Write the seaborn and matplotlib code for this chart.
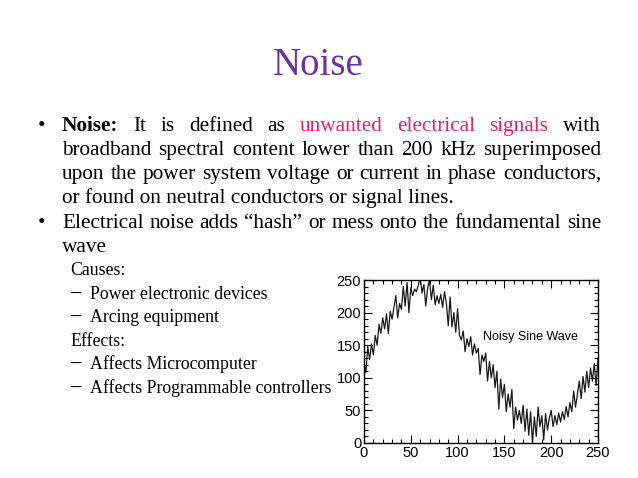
"""
Slide "Noise" with a noisy sine wave plot in the lower right.
"""

import matplotlib
matplotlib.use('Agg')
import pandas as pd
import matplotlib.pyplot as plt
import seaborn as sns
from matplotlib.ticker import MultipleLocator

# Noisy sine wave (one sample every 2 units)
sample_x = list(range(0, 256, 2))
noisy_signal = [
    125, 108, 148, 128, 152, 135, 165, 150, 182, 168,
    192, 175, 198, 168, 202, 190, 208, 226, 192, 214,
    205, 240, 210, 246, 200, 238, 226, 236, 232, 242,
    255, 230, 243, 210, 238, 250, 220, 242, 212, 226,
    214, 228, 208, 232, 215, 180, 224, 178, 200, 170,
    206, 165, 158, 172, 140, 160, 148, 163, 135, 152,
    138, 145, 105, 135, 125, 138, 95, 125, 100, 120,
    85, 110, 52, 98, 70, 90, 48, 75, 55, 82,
    22, 55, 35, 50, 30, 58, 18, 52, 12, 48,
    0, 40, 10, 55, 25, 42, 5, 45, 20, 38,
    50, 25, 42, 28, 46, 32, 48, 36, 56, 40,
    62, 48, 80, 55, 75, 95, 68, 102, 78, 110,
    85, 115, 95, 122, 88, 130, 110, 130,
]
x_ticks = [0, 50, 100, 150, 200, 250]
y_ticks = [0, 50, 100, 150, 200, 250]

title = 'Noise'
bullet1 = [
    [('Noise:', 'bold', 'black'), ('It', 'normal', 'black'), ('is', 'normal', 'black'),
     ('defined', 'normal', 'black'), ('as', 'normal', 'black'),
     ('unwanted', 'normal', '#E0207A'), ('electrical', 'normal', '#E0207A'),
     ('signals', 'normal', '#E0207A'), ('with', 'normal', 'black')],
    'broadband spectral content lower than 200 kHz superimposed',
    'upon the power system voltage or current in phase conductors,',
]
bullet1_last = 'or found on neutral conductors or signal lines.'
bullet2 = 'Electrical noise adds \u201chash\u201d or mess onto the fundamental sine'
bullet2_last = 'wave'
sub_items = [
    ('', 'Causes:'),
    ('\u2013', 'Power electronic devices'),
    ('\u2013', 'Arcing equipment'),
    ('', 'Effects:'),
    ('\u2013', 'Affects Microcomputer'),
    ('\u2013', 'Affects Programmable controllers'),
]

sns.set_style('ticks')
plt.rcParams['font.family'] = ['Liberation Serif', 'DejaVu Serif']
plt.rcParams['text.color'] = 'black'

W, H = 638, 478
fig = plt.figure(figsize=(W / 100, H / 100), dpi=100)
renderer = fig.canvas.get_renderer()


def px(x, y):
    return x / W, 1 - y / H


def put(x, y, s, **kw):
    kw.setdefault('color', 'black')
    return fig.text(*px(x, y), s, va='baseline', **kw)


def justify(words, y, x0=62, x1=601, size=14):
    arts = [put(0, y, w, fontsize=size, fontweight=wt, color=c) for w, wt, c in words]
    widths = [a.get_window_extent(renderer).width for a in arts]
    gap = (x1 - x0 - sum(widths)) / (len(arts) - 1)
    x = x0
    for a, w in zip(arts, widths):
        a.set_position(px(x, y))
        x += w + gap


# title
put(318, 75, title, fontsize=28, color='#7030A0', ha='center')

# first bullet
body_size = 15.3
base = [131, 155, 179, 203, 228, 252]
put(38, base[0], '\u2022', fontsize=body_size)
for i, line in enumerate(bullet1):
    if isinstance(line, str):
        line = [(w, 'normal', 'black') for w in line.split()]
    justify(line, base[i], size=body_size)
put(62, base[3], bullet1_last, fontsize=body_size)

# second bullet
put(38, base[4], '\u2022', fontsize=body_size)
justify([(w, 'normal', 'black') for w in bullet2.split()], base[4], size=body_size)
put(62, base[5], bullet2_last, fontsize=body_size)

# causes / effects
sub_size = 12.8
sub_base = [275, 299, 322, 346, 369, 393]
for (dash, text), y in zip(sub_items, sub_base):
    if dash:
        put(70, y, dash, fontsize=14.5, fontweight='bold')
        put(90, y, text, fontsize=sub_size)
    else:
        put(70, y, text, fontsize=sub_size)

# the plot
ax = fig.add_axes([364 / W, 35 / H, 234 / W, 163 / H])
df = pd.DataFrame({'x': sample_x, 'signal': noisy_signal})
sns.lineplot(data=df, x='x', y='signal', ax=ax, color='#1a1a1a', linewidth=0.9)
ax.set(xlim=(0, 250), ylim=(0, 250), xlabel='', ylabel='')
ax.set_xticks(x_ticks)
ax.set_yticks(y_ticks)
ax.xaxis.set_minor_locator(MultipleLocator(10))
ax.yaxis.set_minor_locator(MultipleLocator(10))
ax.tick_params(which='both', direction='in', top=True, right=True,
               labelsize=10.5, colors='black', width=0.8)
ax.tick_params(which='major', length=6, pad=2)
ax.tick_params(which='minor', length=3)
for lab in ax.get_xticklabels() + ax.get_yticklabels():
    lab.set_family('Liberation Sans')
for sp in ax.spines.values():
    sp.set_visible(True)
    sp.set_linewidth(1.0)
    sp.set_color('black')
ax.text(127, 163, 'Noisy Sine Wave', fontsize=9, family='Liberation Sans',
        va='center', color='black')

fig.savefig('out.png', dpi=100)
